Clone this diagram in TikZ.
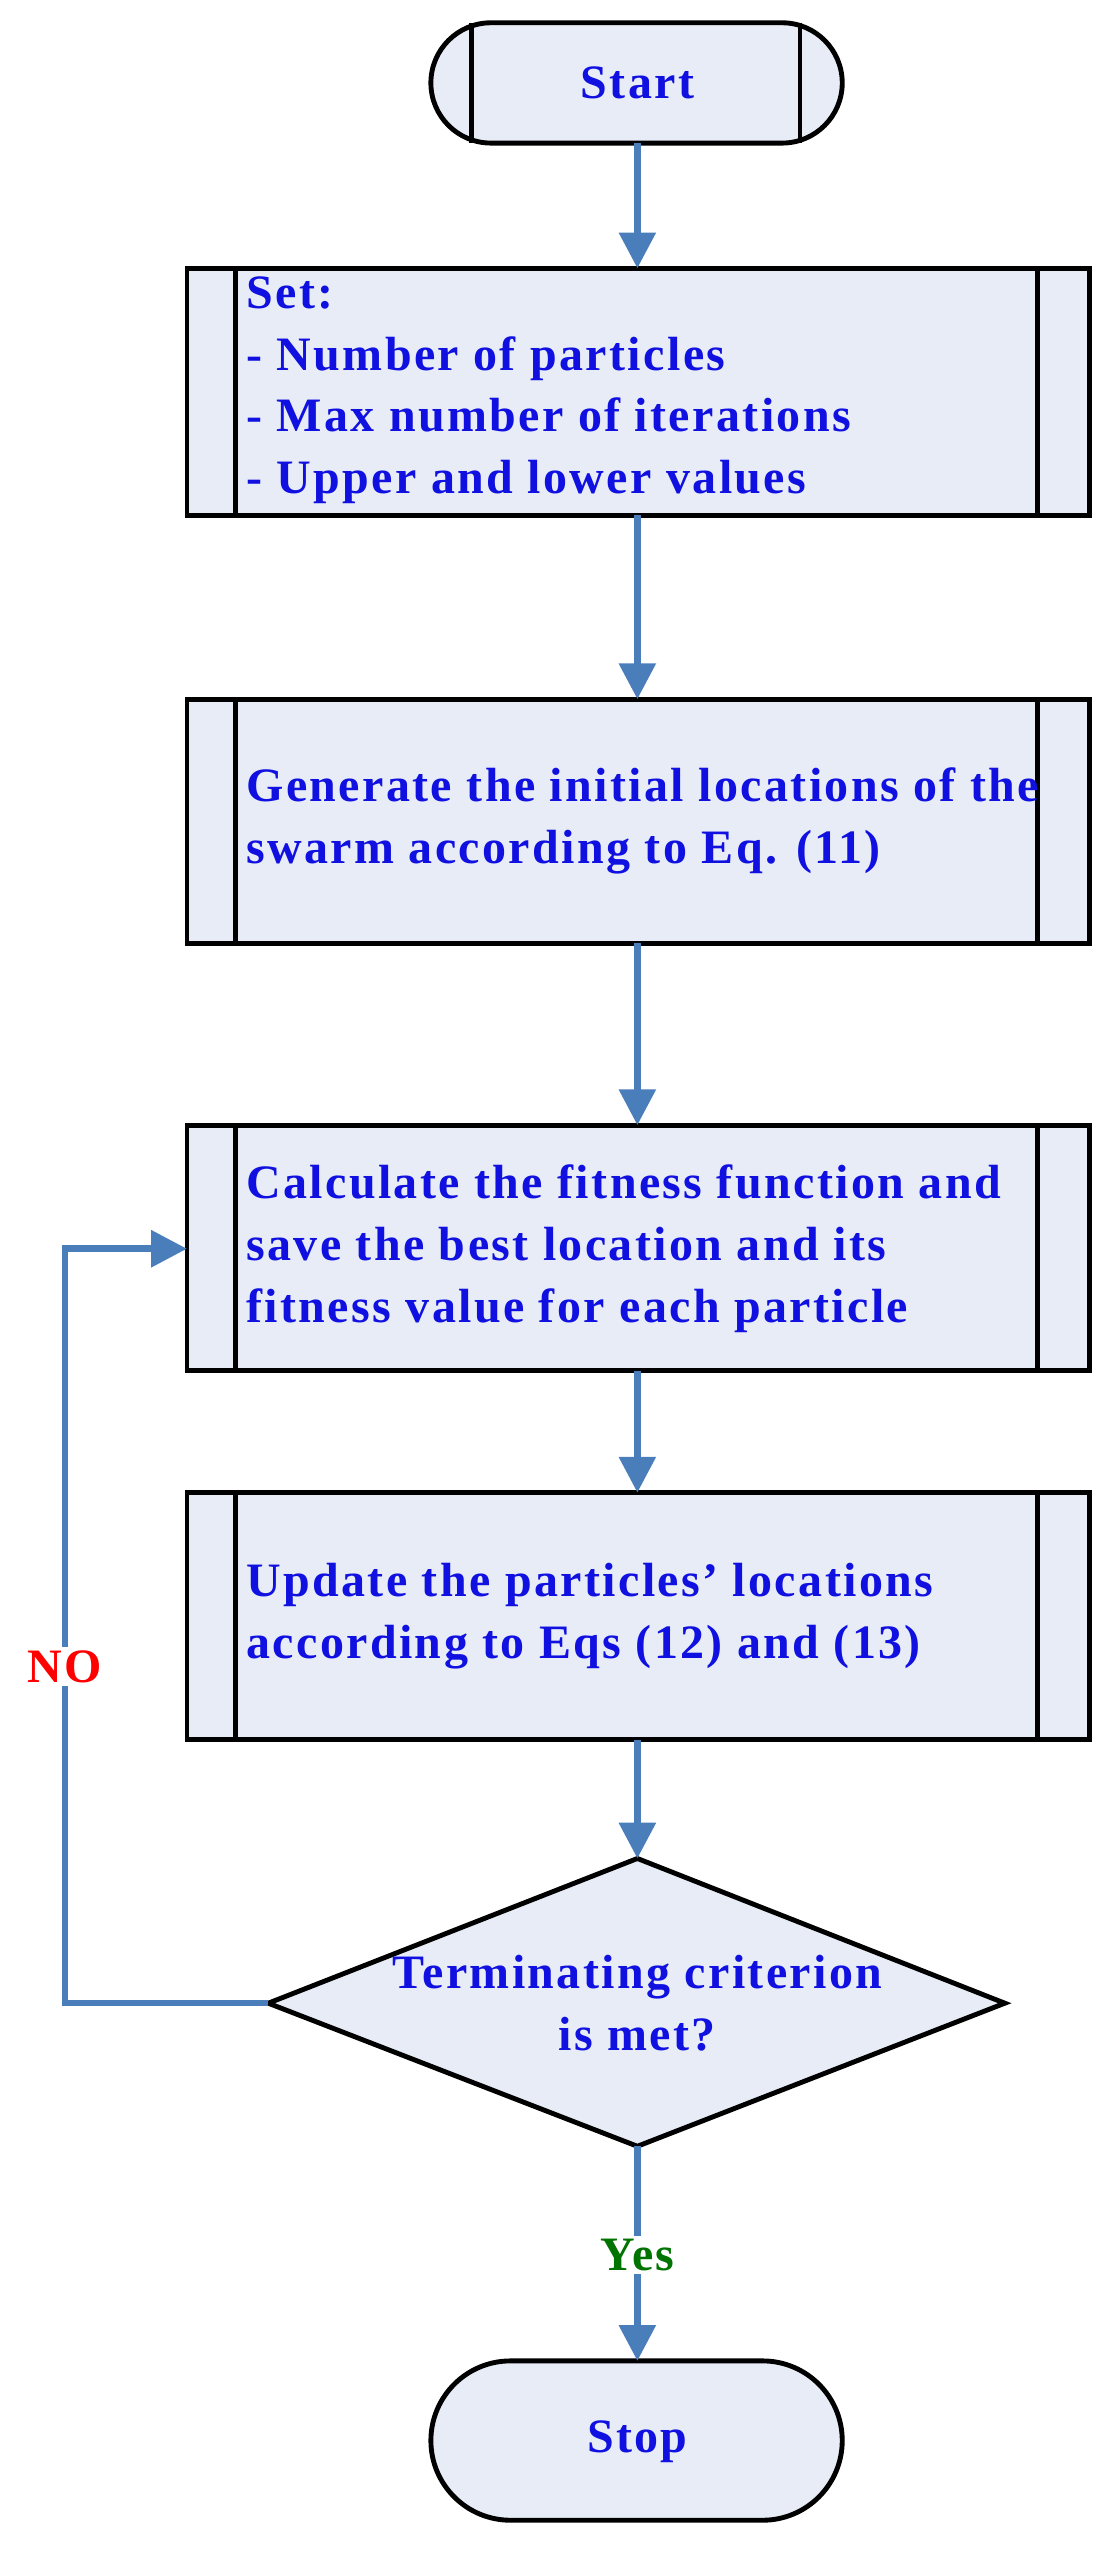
\documentclass[tikz,border=0pt]{standalone}
\usepackage{fontspec}
\setmainfont{Liberation Serif}[LetterSpace=5]
\usetikzlibrary{arrows.meta}
\definecolor{fillc}{HTML}{E7ECF6}
\definecolor{arrc}{HTML}{4A7EBB}
\definecolor{txt}{HTML}{1010E0}
\tikzset{x=1pt,y=-1pt,
 shp/.style={draw=black,line width=3pt,fill=fillc},
 lbl/.style={font=\fontsize{29.5}{38}\selectfont\bfseries,text=txt,align=left,anchor=west},
 arr/.style={draw=arrc,line width=4pt,-{Triangle[length=22pt,width=22pt]}}}
\begin{document}
\begin{tikzpicture}
\useasboundingbox (0,0) rectangle (686,1580);
% Start
\draw[shp,rounded corners=37pt] (265,14) rectangle (518,88);
\draw[line width=3pt] (290,14)--(290,88) (492,14)--(492,88);
\node (start) at (392,51) {\fontsize{29.5}{30}\selectfont\bfseries\color{txt}Start};
\coordinate (sb) at (392,88);
% boxes
\foreach \t/\b in {165/317,430/580,692/843,918/1070}{
 \draw[shp] (115,\t) rectangle (670,\b);
 \draw[line width=3pt] (145,\t)--(145,\b) (638,\t)--(638,\b);}
\coordinate (b1t) at (392,165); \coordinate (b1b) at (392,317);
\coordinate (b2t) at (392,430); \coordinate (b2b) at (392,580);
\coordinate (b3t) at (392,692); \coordinate (b3b) at (392,843);
\coordinate (b4t) at (392,918); \coordinate (b4b) at (392,1070);
\coordinate (b3l) at (115,768);
\node[lbl] (t1) at (148,240) {Set:\\- Number of particles\\- Max number of iterations\\- Upper and lower values};
\node[lbl] (t2) at (148,505) {Generate the initial locations of the\\swarm according to Eq. (11)};
\node[lbl] (t3) at (148,768) {Calculate the fitness function and\\save the best location and its\\fitness value for each particle};
\node[lbl] (t4) at (148,994) {Update the particles’ locations\\according to Eqs (12) and (13)};
% diamond
\draw[shp] (392,1143)--(618,1232)--(392,1320)--(165,1232)--cycle;
\coordinate (dt) at (392,1143); \coordinate (db) at (392,1320); \coordinate (dl) at (165,1232);
\node[align=center,font=\fontsize{29.5}{38}\selectfont\bfseries,text=txt] (dtext) at (392,1232) {Terminating criterion\\is met?};
% Stop
\draw[shp,rounded corners=49pt] (265,1452) rectangle (518,1550);
\coordinate (st) at (392,1452);
\node (stop) at (392,1502) {\fontsize{29.5}{30}\selectfont\bfseries\color{txt}Stop};
% arrows
\draw[arr] (sb)--(b1t);
\draw[arr] (b1b)--(b2t);
\draw[arr] (b2b)--(b3t);
\draw[arr] (b3b)--(b4t);
\draw[arr] (b4b)--(dt);
\draw[arr] (db)--(st);
\draw[arr] (dl)--(40,1232)--(40,768)--(b3l);
\node[fill=white,inner sep=2pt,font=\fontsize{29.5}{30}\selectfont\bfseries,text=red] (no) at (40,1025) {NO};
\node[fill=white,inner sep=2pt,font=\fontsize{29.5}{30}\selectfont\bfseries,text=green!45!black] (yes) at (392,1387) {Yes};
\end{tikzpicture}
\end{document}
